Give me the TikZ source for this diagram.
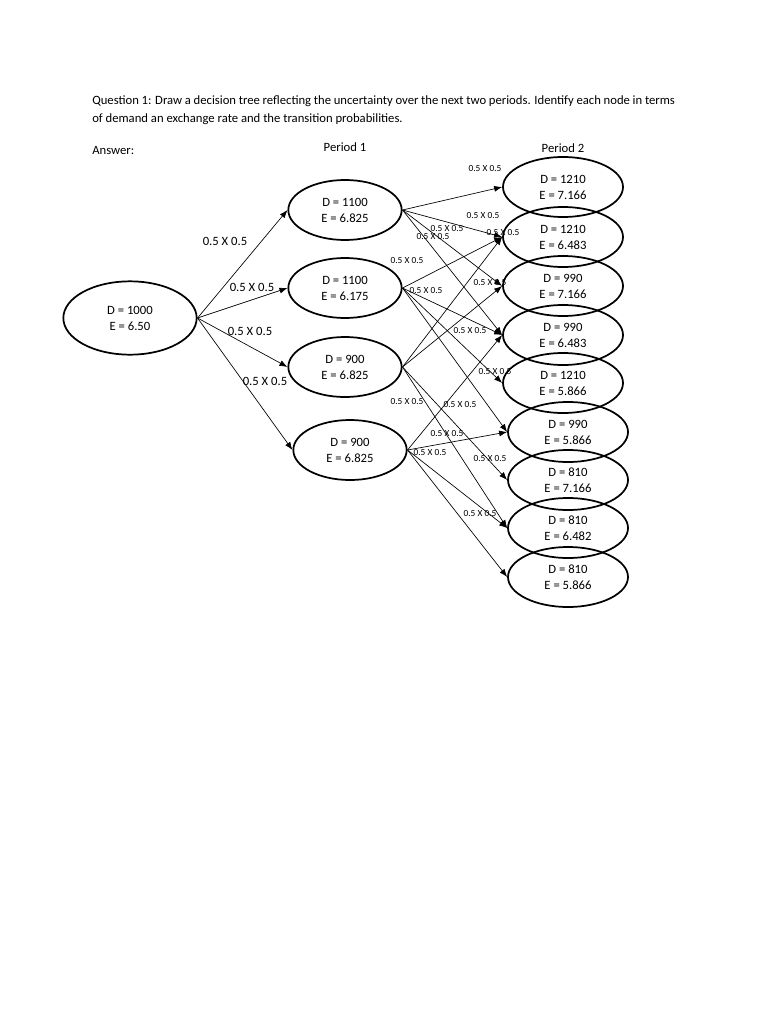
\documentclass[tikz,border=0pt]{standalone}
\usepackage{fontspec}
\setmainfont{Carlito}
\usetikzlibrary{shapes.geometric,arrows.meta}
\begin{document}
\begin{tikzpicture}[x=0.75pt,y=-0.75pt,
  st/.style={ellipse,draw,line width=1.3pt,minimum width=85,minimum height=45,inner sep=0pt,align=center,font=\fontsize{9.5}{12}\selectfont},
  ed/.style={-{Latex[length=6pt,width=4.5pt]},line width=0.5pt},
  lb/.style={font=\fontsize{7}{8}\selectfont},
  LB/.style={font=\fontsize{9.5}{11}\selectfont}]
\useasboundingbox[fill=white] (0,0) rectangle (768,1024);
\node[anchor=north west,inner sep=0pt,text width=437pt,align=justify,font=\fontsize{9.5}{13.5}\selectfont] (q) at (92,95) {Question 1: Draw a decision tree reflecting the uncertainty over the next two periods. Identify each node in terms of demand an exchange rate and the transition probabilities.};
\node[anchor=west,inner sep=0pt,font=\fontsize{9.5}{12}\selectfont] (ans) at (92,150) {Answer:};
\node[font=\fontsize{9.5}{12}\selectfont] (p1) at (345,147) {Period 1};
\node[font=\fontsize{9.5}{12}\selectfont] (p2) at (563,148) {Period 2};
\node[st,minimum width=100,minimum height=55] (r) at (130,318) {D = 1000\\E = 6.50};
\node[st] (a1) at (345,210) {D = 1100\\E = 6.825};
\node[st] (a2) at (345,288) {D = 1100\\E = 6.175};
\node[st] (a3) at (345,367) {D = 900\\E = 6.825};
\node[st] (a4) at (350,450) {D = 900\\E = 6.825};
\node[st,minimum width=90] (b1) at (563,187) {D = 1210\\E = 7.166};
\node[st,minimum width=90] (b2) at (563,237) {D = 1210\\E = 6.483};
\node[st,minimum width=90] (b3) at (563,286) {D = 990\\E = 7.166};
\node[st,minimum width=90] (b4) at (563,335) {D = 990\\E = 6.483};
\node[st,minimum width=90] (b5) at (563,383) {D = 1210\\E = 5.866};
\node[st,minimum width=90] (b6) at (568,432) {D = 990\\E = 5.866};
\node[st,minimum width=90] (b7) at (568,480) {D = 810\\E = 7.166};
\node[st,minimum width=90] (b8) at (568,528) {D = 810\\E = 6.482};
\node[st,minimum width=90] (b9) at (568,577) {D = 810\\E = 5.866};
\foreach \t in {a1,a2,a3,a4} \draw[ed] (r.east) -- (\t.west);
\draw[ed] (a1.east) -- (b1.west);
\draw[ed] (a1.east) -- (b2.west);
\draw[ed] (a1.east) -- (b3.west);
\draw[ed] (a1.east) -- (b4.west);
\draw[ed] (a2.east) -- (b2.west);
\draw[ed] (a2.east) -- (b4.west);
\draw[ed] (a2.east) -- (b5.west);
\draw[ed] (a2.east) -- (b6.west);
\draw[ed] (a3.east) -- (b2.west);
\draw[ed] (a3.east) -- (b3.west);
\draw[ed] (a3.east) -- (b7.west);
\draw[ed] (a3.east) -- (b8.west);
\draw[ed] (a4.east) -- (b4.west);
\draw[ed] (a4.east) -- (b6.west);
\draw[ed] (a4.east) -- (b8.west);
\draw[ed] (a4.east) -- (b9.west);
\node[LB] (l1) at (225,241) {0.5 X 0.5};
\node[LB] (l2) at (252,287) {0.5 X 0.5};
\node[LB] (l3) at (250,331) {0.5 X 0.5};
\node[LB] (l4) at (265,381) {0.5 X 0.5};
\foreach \x/\y [count=\i] in {485/169,483/216,447/229,433/237,503/233,407/261,426/291,490/283,470/331,495/372,407/402,460/405,447/434,430/453,490/459,480/514}
  \node[lb] (s\i) at (\x,\y) {0.5 X 0.5};
\end{tikzpicture}
\end{document}
